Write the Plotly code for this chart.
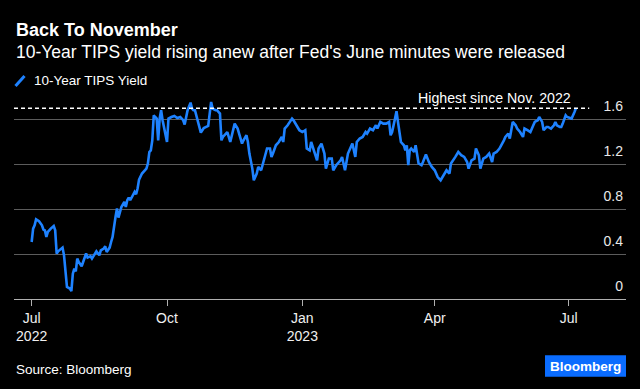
import plotly.graph_objects as go

# ---- data (10-Year TIPS yield, %) ----
dates = [
    # Jul 2022
    "2022-07-01","2022-07-02","2022-07-03","2022-07-04","2022-07-06","2022-07-08","2022-07-09","2022-07-10",
    "2022-07-11","2022-07-12","2022-07-14","2022-07-16","2022-07-17","2022-07-18","2022-07-19","2022-07-21",
    "2022-07-22","2022-07-23","2022-07-24","2022-07-25","2022-07-27","2022-07-28","2022-07-29","2022-07-30",
    "2022-07-31",
    # Aug
    "2022-08-01","2022-08-02","2022-08-04","2022-08-05","2022-08-07","2022-08-08","2022-08-10","2022-08-11",
    "2022-08-13","2022-08-14","2022-08-16","2022-08-17","2022-08-19","2022-08-20","2022-08-21","2022-08-23",
    "2022-08-24","2022-08-25","2022-08-27","2022-08-28","2022-08-29","2022-08-30","2022-08-31",
    # Sep
    "2022-09-02","2022-09-03","2022-09-04","2022-09-05","2022-09-06","2022-09-08","2022-09-09","2022-09-10",
    "2022-09-11","2022-09-12","2022-09-14","2022-09-17","2022-09-18","2022-09-19","2022-09-20","2022-09-21",
    "2022-09-22","2022-09-23","2022-09-24","2022-09-25","2022-09-26","2022-09-27","2022-09-28",
    # Oct
    "2022-10-01","2022-10-02","2022-10-04","2022-10-06","2022-10-08","2022-10-10","2022-10-12","2022-10-13",
    "2022-10-15","2022-10-17","2022-10-18","2022-10-19","2022-10-20","2022-10-22","2022-10-24","2022-10-26",
    "2022-10-28","2022-10-29","2022-10-31",
    # Nov
    "2022-11-01","2022-11-03","2022-11-04","2022-11-06","2022-11-07","2022-11-08","2022-11-10","2022-11-11",
    "2022-11-13","2022-11-15","2022-11-16","2022-11-18","2022-11-19","2022-11-21","2022-11-22","2022-11-24",
    "2022-11-25","2022-11-26","2022-11-28","2022-11-29",
    # Dec
    "2022-12-01","2022-12-02","2022-12-04","2022-12-05","2022-12-07","2022-12-08","2022-12-10","2022-12-11",
    "2022-12-12","2022-12-14","2022-12-16","2022-12-18","2022-12-19","2022-12-20","2022-12-22","2022-12-25",
    "2022-12-26","2022-12-28","2022-12-30",
    # Jan 2023
    "2023-01-01","2023-01-03","2023-01-04","2023-01-06","2023-01-07","2023-01-09","2023-01-11","2023-01-12",
    "2023-01-14","2023-01-16","2023-01-17","2023-01-19","2023-01-21","2023-01-22","2023-01-24","2023-01-27",
    "2023-01-28","2023-01-30",
    # Feb
    "2023-02-01","2023-02-02","2023-02-04","2023-02-06","2023-02-07","2023-02-09","2023-02-11","2023-02-13",
    "2023-02-14","2023-02-16","2023-02-18","2023-02-20","2023-02-21","2023-02-23","2023-02-25","2023-02-27",
    # Mar
    "2023-03-01","2023-03-02","2023-03-03","2023-03-05","2023-03-06","2023-03-07","2023-03-09","2023-03-11",
    "2023-03-12","2023-03-13","2023-03-14","2023-03-15","2023-03-16","2023-03-18","2023-03-19","2023-03-21",
    "2023-03-23","2023-03-24","2023-03-26","2023-03-28","2023-03-30",
    # Apr
    "2023-04-01","2023-04-03","2023-04-05","2023-04-07","2023-04-09","2023-04-11","2023-04-12","2023-04-15",
    "2023-04-17","2023-04-19","2023-04-21","2023-04-23","2023-04-24","2023-04-26","2023-04-28","2023-04-29",
    # May
    "2023-05-01","2023-05-02","2023-05-04","2023-05-06","2023-05-08","2023-05-10","2023-05-11","2023-05-13",
    "2023-05-15","2023-05-18","2023-05-19","2023-05-21","2023-05-22","2023-05-24","2023-05-26","2023-05-27",
    "2023-05-29","2023-05-31",
    # Jun
    "2023-06-01","2023-06-03","2023-06-05","2023-06-07","2023-06-08","2023-06-10","2023-06-11","2023-06-13",
    "2023-06-14","2023-06-16","2023-06-17","2023-06-19","2023-06-21","2023-06-22","2023-06-23","2023-06-25",
    "2023-06-26","2023-06-27","2023-06-29","2023-06-30",
    # Jul 2023
    "2023-07-02","2023-07-03","2023-07-05","2023-07-06",
]

tips_yield = [
    # Jul 2022
    0.508,0.627,0.657,0.710,0.693,0.657,0.619,0.612,0.553,0.597,0.627,0.651,0.612,0.405,0.425,0.449,
    0.458,0.389,0.226,0.107,0.093,0.071,0.226,0.271,0.247,
    # Aug
    0.360,0.330,0.291,0.330,0.405,0.369,0.381,0.360,0.405,0.425,0.389,0.434,0.449,0.470,0.419,0.458,
    0.508,0.553,0.731,0.806,0.726,0.784,0.820,
    # Sep
    0.865,0.820,0.880,0.904,0.880,0.939,0.954,0.933,0.984,1.064,1.118,1.162,1.207,1.310,1.325,1.414,
    1.637,1.622,1.608,1.414,1.608,1.682,1.593,
    # Oct
    1.399,1.608,1.622,1.631,1.613,1.622,1.593,1.554,1.682,1.750,1.697,1.682,1.682,1.593,1.483,1.524,
    1.533,1.542,1.756,
    # Nov
    1.697,1.682,1.682,1.652,1.414,1.444,1.474,1.488,1.399,1.519,1.563,1.519,1.474,1.385,1.414,1.459,
    1.399,1.296,1.162,1.058,
    # Dec
    1.118,1.177,1.147,1.192,1.296,1.341,1.341,1.266,1.296,1.370,1.399,1.444,1.399,1.519,1.548,1.608,
    1.593,1.548,1.504,
    # Jan 2023
    1.488,1.504,1.341,1.325,1.399,1.325,1.236,1.341,1.385,1.296,1.162,1.251,1.251,1.147,1.192,1.236,
    1.266,1.147,
    # Feb
    1.296,1.325,1.385,1.266,1.399,1.430,1.444,1.488,1.474,1.519,1.504,1.548,1.519,1.578,1.563,1.563,
    # Mar
    1.578,1.459,1.488,1.608,1.673,1.578,1.399,1.370,1.325,1.370,1.192,1.325,1.341,1.310,1.370,1.207,
    1.192,1.221,1.287,1.221,1.177,
    # Apr
    1.147,1.087,1.058,1.103,1.147,1.118,1.207,1.266,1.310,1.281,1.266,1.221,1.162,1.236,1.251,1.341,
    # May
    1.281,1.162,1.251,1.266,1.296,1.221,1.296,1.310,1.341,1.414,1.444,1.474,1.430,1.578,1.548,1.519,
    1.488,1.444,
    # Jun
    1.519,1.504,1.488,1.548,1.578,1.593,1.622,1.578,1.504,1.533,1.533,1.519,1.548,1.578,1.548,1.533,
    1.533,1.563,1.637,1.622,
    # Jul 2023
    1.613,1.608,1.667,1.702,
]

assert len(dates) == len(tips_yield)

x_tick_vals = ["2022-07-01", "2022-10-01", "2023-01-01", "2023-04-01", "2023-07-01"]
x_tick_text = ["Jul<br>2022", "Oct", "Jan<br>2023", "Apr", "Jul"]
y_tick_vals = [0, 0.4, 0.8, 1.2, 1.6]
y_tick_text = ["0", "0.4", "0.8", "1.2", "1.6"]

highest_level = 1.70
highest_label = "Highest since Nov. 2022"
series_name = "10-Year TIPS Yield"

# ---- styling ----
FONT = "Liberation Sans, Arial, Helvetica, sans-serif"
LINE_BLUE = "#1e82ff"
BOX_BLUE = "#0a6cff"
W, H = 640, 389
ML, MR, MT, MB = 14, 14, 97, 90
PH = H - MT - MB


def py(pix):
    """pixel row -> paper y"""
    return (H - MB - pix) / PH


def px(pix):
    """pixel column -> paper x"""
    return (pix - ML) / (W - ML - MR)


fig = go.Figure()
fig.add_trace(go.Scatter(
    x=dates, y=tips_yield, mode="lines", name=series_name,
    line=dict(color=LINE_BLUE, width=2.6), showlegend=False,
    hoverinfo="x+y",
))

fig.update_layout(
    width=W, height=H,
    margin=dict(l=ML, r=MR, t=MT, b=MB, pad=0),
    paper_bgcolor="black", plot_bgcolor="black",
    font=dict(family=FONT, color="white", size=14),
    xaxis=dict(
        range=["2022-06-19", "2023-08-09"],
        tickvals=x_tick_vals, ticktext=x_tick_text,
        showgrid=False, zeroline=False,
        showline=True, linecolor="#b0b0b0", linewidth=1,
        ticks="outside", ticklen=6, tickcolor="#b0b0b0", tickwidth=1,
        tickfont=dict(size=14, color="#f0f0f0"),
        fixedrange=True,
    ),
    yaxis=dict(
        range=[0, 1.8], side="right",
        tickvals=y_tick_vals, ticktext=y_tick_text,
        ticklabelposition="inside", ticklabelshift=-13,
        showgrid=True, gridcolor="#5c5c5c", gridwidth=1,
        zeroline=False, showline=False, ticks="",
        tickfont=dict(size=14, color="#e8e8e8"),
        fixedrange=True,
    ),
)

# dashed reference line and its label
fig.add_shape(type="line", xref="x", yref="y",
              x0="2022-06-19", x1="2023-07-15", y0=highest_level, y1=highest_level,
              line=dict(color="white", width=1.5, dash="4px,3px"))
fig.add_annotation(x="2023-07-04", y=highest_level, xref="x", yref="y",
                   text=highest_label, showarrow=False, xanchor="right", yanchor="bottom",
                   font=dict(size=14.2, color="white"))

# title, subtitle
fig.add_annotation(x=0, y=py(30.5), xref="paper", yref="paper", xanchor="left", yanchor="middle",
                   text="<b>Back To November</b>", showarrow=False,
                   font=dict(size=18, color="white"))
fig.add_annotation(x=0, y=py(51.5), xref="paper", yref="paper", xanchor="left", yanchor="middle",
                   text="10-Year TIPS yield rising anew after Fed's June minutes were released",
                   showarrow=False, font=dict(size=17.5, color="white"))

# legend (slanted Bloomberg-style key)
fig.add_shape(type="line", xref="paper", yref="paper",
              x0=px(15.5), y0=py(86), x1=px(24.5), y1=py(76),
              line=dict(color=LINE_BLUE, width=3))
fig.add_annotation(x=px(32), y=py(81), xref="paper", yref="paper", xanchor="left", yanchor="middle",
                   text=series_name, showarrow=False, font=dict(size=13.5, color="white"))

# footer
fig.add_annotation(x=0, y=py(369), xref="paper", yref="paper", xanchor="left", yanchor="middle",
                   text="Source: Bloomberg", showarrow=False, font=dict(size=13.5, color="white"))
fig.add_shape(type="rect", xref="paper", yref="paper",
              x0=px(545), x1=px(626), y0=py(376.7), y1=py(355.3),
              fillcolor=BOX_BLUE, line=dict(width=0))
fig.add_annotation(x=px(585.5), y=py(366), xref="paper", yref="paper", xanchor="center", yanchor="middle",
                   text="<b>Bloomberg</b>", showarrow=False, font=dict(size=13.5, color="white"))

fig.write_html(
    "out.html",
    config={"displayModeBar": False},
    post_script="document.body.style.margin='0';document.body.style.padding='0';",
)
